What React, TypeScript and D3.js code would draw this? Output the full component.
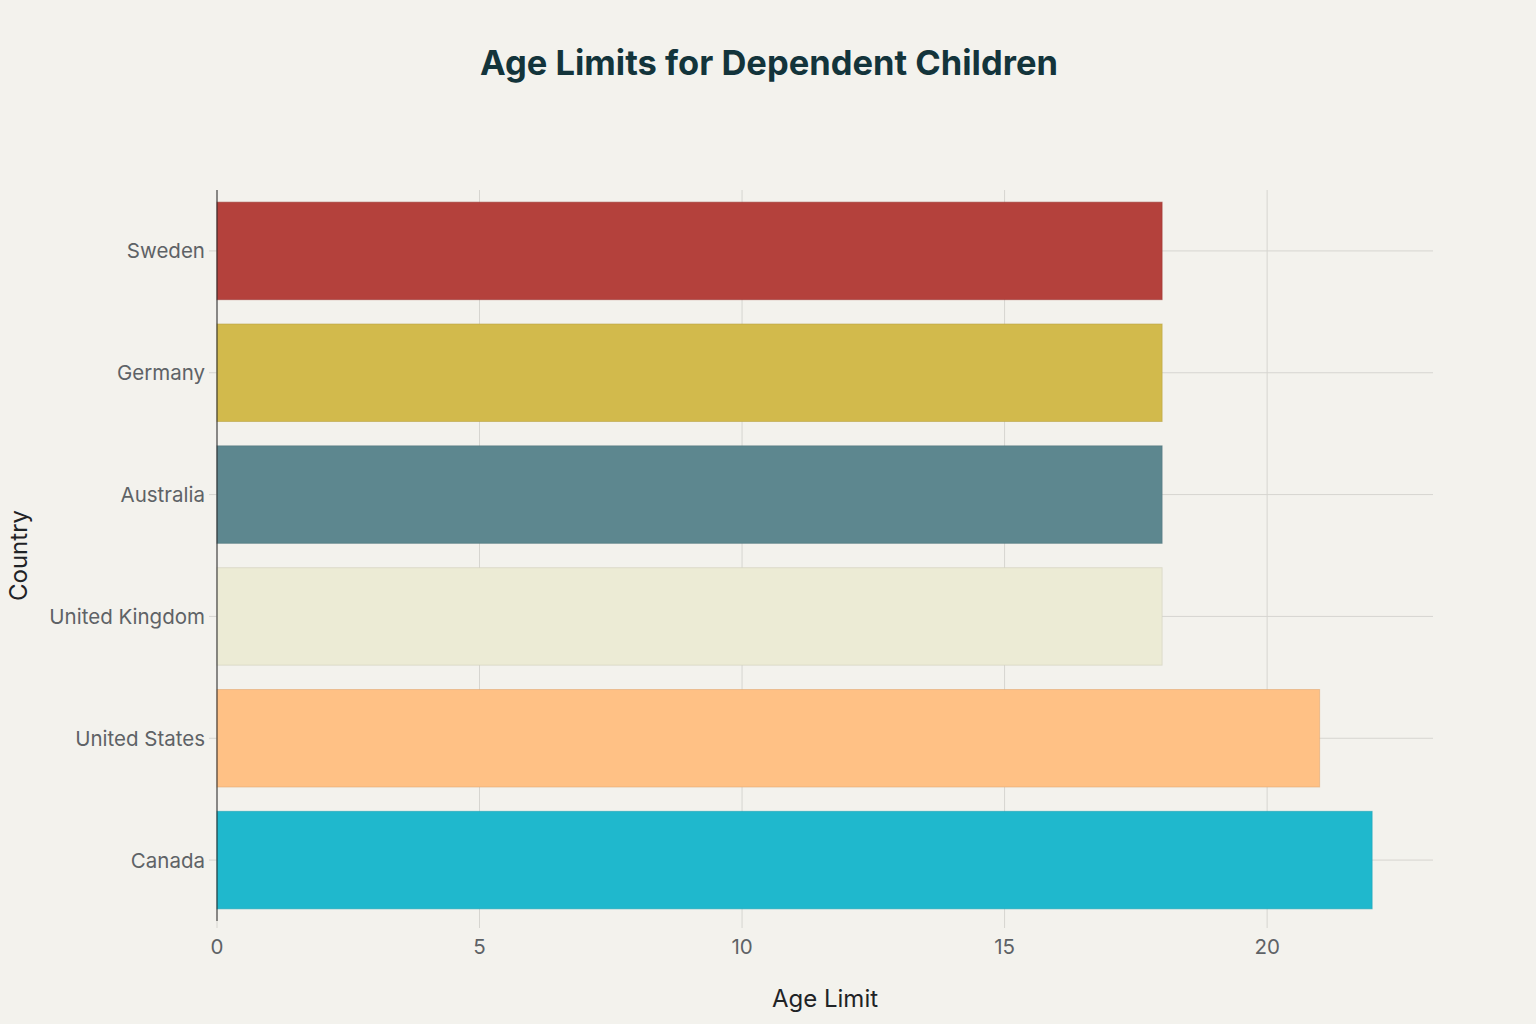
import { useMemo } from "react";
import * as d3 from "d3";

const countries = ["Sweden", "Germany", "Australia", "United Kingdom", "United States", "Canada"];
const ageLimits = [18, 18, 18, 18, 21, 22];
const barColors = ["#b4413c", "#d2ba4c", "#5d878f", "#ecebd5", "#ffc185", "#1fb8cd"];
const xTickValues = [0, 5, 10, 15, 20];

const W = 1536;
const H = 1024;
const FONT = "Inter, 'Open Sans', sans-serif";

export default function App() {
  const margin = { top: 190, right: 103, bottom: 103, left: 217 };
  const innerWidth = W - margin.left - margin.right;
  const innerHeight = H - margin.top - margin.bottom;

  const xMax = (d3.max(ageLimits) || 0) * 1.0527;

  const xScale = useMemo(
    () => d3.scaleLinear().domain([0, xMax]).range([0, innerWidth]),
    [xMax, innerWidth]
  );
  const yScale = useMemo(
    () => d3.scaleBand().domain(countries).range([0, innerHeight]).paddingInner(0.2).paddingOuter(0.1),
    [innerHeight]
  );

  return (
    <svg
      width={W}
      height={H}
      style={{ position: "absolute", left: 0, top: 0, display: "block", background: "#f3f2ed" }}
      fontFamily={FONT}
    >
      <rect width={W} height={H} fill="#f3f2ed" />
      <text
        x={W / 2 + 1}
        y={75}
        textAnchor="middle"
        fontSize={34.5}
        fontWeight={700}
        fill="#13343b"
      >
        Age Limits for Dependent Children
      </text>

      <g transform={`translate(${margin.left}, ${margin.top})`}>
        {/* vertical grid */}
        {xTickValues.map((v) => (
          <line
            key={`gx${v}`}
            x1={xScale(v)}
            x2={xScale(v)}
            y1={0}
            y2={innerHeight + 7}
            stroke="#d6d5d0"
            strokeWidth={1}
          />
        ))}
        {/* horizontal grid + y ticks */}
        {countries.map((c) => {
          const cy = (yScale(c) || 0) + yScale.bandwidth() / 2;
          return (
            <g key={`gy${c}`}>
              <line x1={0} x2={innerWidth} y1={cy} y2={cy} stroke="#d6d5d0" strokeWidth={1} />
              <line x1={-8} x2={0} y1={cy} y2={cy} stroke="#d6d5d0" strokeWidth={1} />
              <text
                x={-12}
                y={cy}
                textAnchor="end"
                dominantBaseline="central"
                fontSize={20.5}
                fill="#5e6266"
              >
                {c}
              </text>
            </g>
          );
        })}

        {/* bars */}
        {countries.map((c, i) => (
          <rect
            key={c}
            x={xScale(0)}
            y={yScale(c)}
            width={xScale(ageLimits[i]) - xScale(0)}
            height={yScale.bandwidth()}
            fill={barColors[i]}
            stroke={d3.color(barColors[i])?.darker(0.35).formatHex()}
            strokeOpacity={0.6}
            strokeWidth={1}
          />
        ))}

        {/* y axis line */}
        <line x1={0} x2={0} y1={0} y2={innerHeight} stroke="#2a2a2a" strokeWidth={1} />

        {/* x tick labels */}
        {xTickValues.map((v) => (
          <text
            key={`tx${v}`}
            x={xScale(v)}
            y={innerHeight + 33}
            textAnchor="middle"
            fontSize={20.5}
            fill="#5e6266"
          >
            {v}
          </text>
        ))}

        <text
          x={innerWidth / 2}
          y={innerHeight + 86}
          textAnchor="middle"
          fontSize={24}
          fill="#1f2326"
        >
          Age Limit
        </text>
        <text
          transform={`translate(${-190}, ${innerHeight / 2}) rotate(-90)`}
          textAnchor="middle"
          fontSize={24}
          fill="#1f2326"
        >
          Country
        </text>
      </g>
    </svg>
  );
}
